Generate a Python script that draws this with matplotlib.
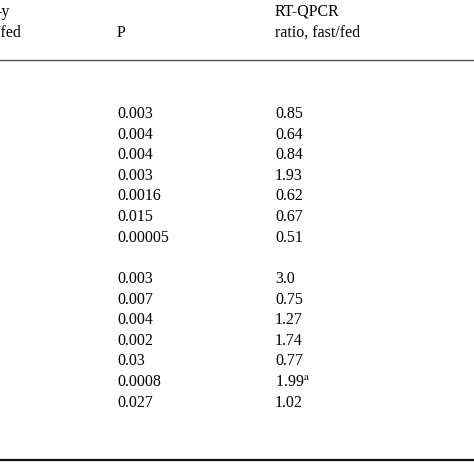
import matplotlib
matplotlib.use("Agg")
import matplotlib.pyplot as plt
from matplotlib.lines import Line2D

plt.rcParams["mathtext.fontset"] = "stix"

p_values = ["0.003", "0.004", "0.004", "0.003", "0.0016", "0.015", "0.00005",
            "0.003", "0.007", "0.004", "0.002", "0.03", "0.0008", "0.027"]
ratios = ["0.85", "0.64", "0.84", "1.93", "0.62", "0.67", "0.51",
          "3.0", "0.75", "1.27", "1.74", "0.77", r"1.99$^{\mathrm{a}}$", "1.02"]

fig = plt.figure(figsize=(4.74, 4.74), dpi=100)
W = H = 474.0
fam = ["Liberation Serif", "DejaVu Serif"]
fs = 11.5

def t(x, y, s, **kw):
    fig.text(x / W, 1 - y / H, s, family=fam, fontsize=fs, va="center", ha="left", **kw)

t(-4, 12, "-y")
t(-4, 33, "/fed")
t(117, 33, "P")
t(275, 12, "RT-QPCR")
t(275, 33, "ratio, fast/fed")

fig.add_artist(Line2D([0, 1], [1 - 60 / H] * 2, color="#555555", lw=1.0))
fig.add_artist(Line2D([0, 1], [1 - 460 / H] * 2, color="#111111", lw=1.6))

ys = [114 + 20.6 * i for i in range(7)] + [279 + 20.6 * i for i in range(7)]
for y, pv, r in zip(ys, p_values, ratios):
    t(117, y, pv)
    t(275, y, r)

fig.savefig("out.png", dpi=100, facecolor="white")
